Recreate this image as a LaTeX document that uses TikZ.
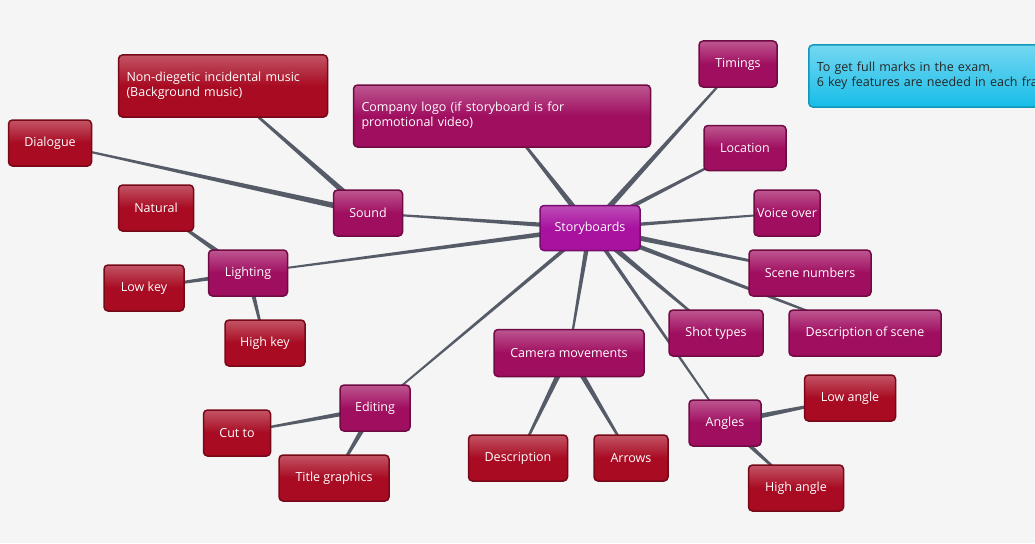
\documentclass[tikz,border=0pt]{standalone}
\usepackage{fontspec}
\setmainfont{Open Sans}
\usetikzlibrary{calc,backgrounds}
\definecolor{hubc}{HTML}{A8129F}
\definecolor{midc}{HTML}{A00E60}
\definecolor{leafc}{HTML}{A80B22}
\definecolor{edgec}{HTML}{565B68}
\definecolor{notec}{HTML}{17BDE8}
\tikzset{
  bx/.style={rounded corners=4pt,text=white,font=\fontsize{12.5}{15}\selectfont,inner sep=0pt,line width=1.5pt},
  hub/.style={bx,draw=hubc!70!black,top color=hubc!75!white,bottom color=hubc,middle color=hubc},
  mid/.style={bx,draw=midc!70!black,top color=midc!70!white,bottom color=midc,middle color=midc},
  leaf/.style={bx,draw=leafc!70!black,top color=leafc!70!white,bottom color=leafc,middle color=leafc},
}
\newcommand{\taper}[3]{\fill[edgec] ($(#1)!#3!90:(#2)$) -- ($(#1)!#3!-90:(#2)$) -- ($(#2)!0.8pt!90:(#1)$) -- ($(#2)!0.8pt!-90:(#1)$) -- cycle;}
\begin{document}
\begin{tikzpicture}[x=1pt,y=-1pt]
\useasboundingbox (0,0) rectangle (1035,543);
\clip (0,0) rectangle (1035,543);
\node[hub,minimum width=100,minimum height=45] (sb) at (590,228) {Storyboards};
\node[mid,minimum width=78,minimum height=46] (tim) at (738,64) {Timings};
\node[mid,minimum width=82,minimum height=45] (loc) at (745,148) {Location};
\node[mid,minimum width=66,minimum height=46] (vo) at (787,213) {Voice over};
\node[mid,minimum width=122,minimum height=46] (sn) at (810,273) {Scene numbers};
\node[mid,minimum width=152,minimum height=46] (ds) at (865,333) {Description of scene};
\node[mid,minimum width=94,minimum height=46] (st) at (716,333) {Shot types};
\node[mid,minimum width=72,minimum height=46] (ang) at (725,423) {Angles};
\node[leaf,minimum width=91,minimum height=46] (la) at (850,398) {Low angle};
\node[leaf,minimum width=95,minimum height=46] (ha) at (796,488) {High angle};
\node[mid,minimum width=150,minimum height=47] (cm) at (569,353) {Camera movements};
\node[leaf,minimum width=99,minimum height=46] (desc) at (518,458) {Description};
\node[leaf,minimum width=74,minimum height=46] (arr) at (631,458) {Arrows};
\node[mid,minimum width=70,minimum height=46] (ed) at (375,408) {Editing};
\node[leaf,minimum width=67,minimum height=46] (cut) at (237,433) {Cut to};
\node[leaf,minimum width=110,minimum height=46] (tg) at (334,478) {Title graphics};
\node[mid,minimum width=79,minimum height=46] (li) at (248,273) {Lighting};
\node[leaf,minimum width=75,minimum height=46] (nat) at (156,208) {Natural};
\node[leaf,minimum width=80,minimum height=46] (lk) at (144,288) {Low key};
\node[leaf,minimum width=80,minimum height=46] (hk) at (265,343) {High key};
\node[mid,minimum width=69,minimum height=46] (so) at (368,213) {Sound};
\node[leaf,minimum width=83,minimum height=46] (dia) at (50,143) {Dialogue};
\node[leaf,minimum width=209,minimum height=62,text width=193,align=left] (nd) at (223,86) {Non-diegetic incidental music\\(Background music)};
\node[mid,minimum width=297,minimum height=62,text width=281,align=left] (cl) at (502,116) {Company logo (if storyboard is for\\promotional video)};
\node[bx,anchor=west,draw=notec!80!black,top color=notec!60!white,bottom color=notec,text=black!85,minimum height=62,text width=300,align=left,inner xsep=8pt] (note) at (808,76) {To get full marks in the exam,\\6 key features are needed in each frame.};
\begin{scope}[on background layer]
\fill[white!96!black] (0,0) rectangle (1035,543);
\taper{sb}{tim}{3pt}
\taper{sb}{loc}{2.5pt}
\taper{sb}{vo}{2pt}
\taper{sb}{sn}{3pt}
\taper{sb}{ds}{2.5pt}
\taper{sb}{st}{3pt}
\taper{sb}{ang}{2pt}
\taper{sb}{cm}{2.5pt}
\taper{sb}{ed}{2pt}
\taper{sb}{li}{2.5pt}
\taper{sb}{so}{2.5pt}
\taper{sb}{cl}{3pt}
\taper{ang}{la}{3pt}
\taper{ang}{ha}{2.5pt}
\taper{cm}{desc}{3pt}
\taper{cm}{arr}{3pt}
\taper{ed}{cut}{2.5pt}
\taper{ed}{tg}{3pt}
\taper{li}{nat}{3pt}
\taper{li}{lk}{2.5pt}
\taper{li}{hk}{2.5pt}
\taper{so}{dia}{3pt}
\taper{so}{nd}{3pt}
\end{scope}
\end{tikzpicture}
\end{document}
